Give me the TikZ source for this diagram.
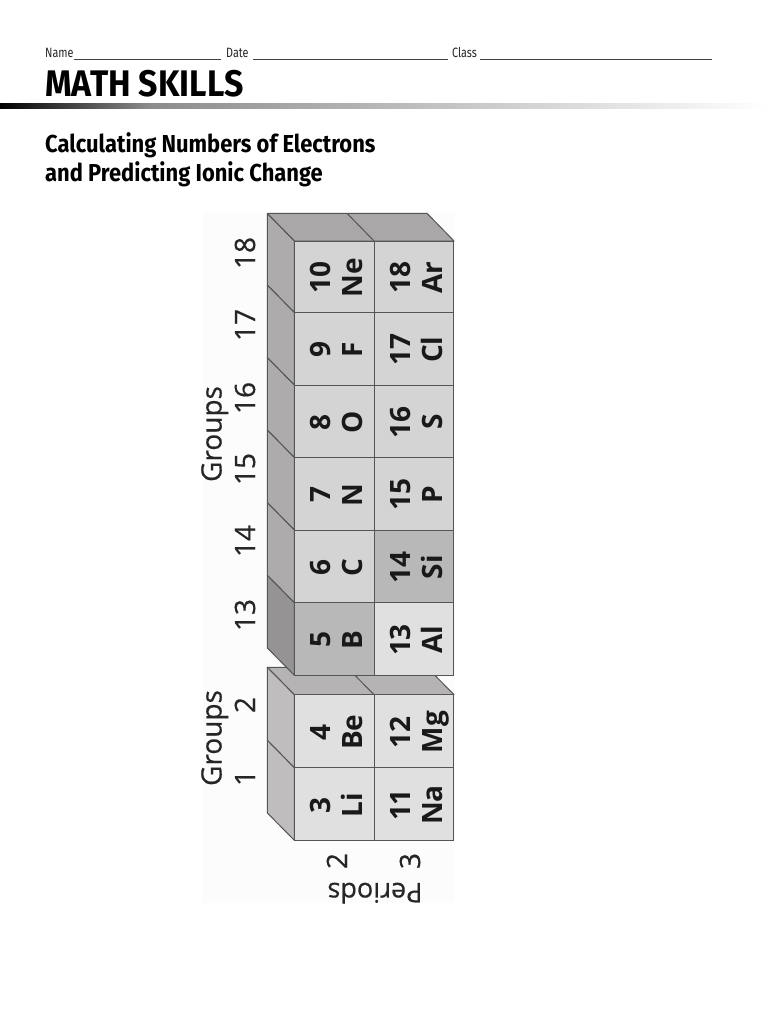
\documentclass[tikz,border=0pt]{standalone}
\usepackage{fontspec}
\setmainfont{Open Sans}
\newfontfamily\headfont{Fira Sans}
\usetikzlibrary{calc}
\definecolor{edgegray}{HTML}{555555}
\definecolor{topgray}{HTML}{A9A7A8}
\definecolor{sidegray}{HTML}{ADABAC}
\definecolor{sidedark}{HTML}{959394}
\definecolor{sidelow}{HTML}{BFBDBE}
\definecolor{toplow}{HTML}{B5B3B4}
\definecolor{celllight}{HTML}{D5D4D5}
\definecolor{celldark}{HTML}{B9B8B8}
\definecolor{cellpale}{HTML}{E0E0E0}
\tikzstyle{face} = [draw=edgegray,line width=1pt,line join=round]
\tikzstyle{cellbox} = [rectangle,draw=edgegray,line width=1pt,inner sep=0pt,minimum width=79.8pt]
\tikzstyle{elem} = [rotate=90,anchor=base,inner sep=0pt,font=\fontsize{28}{30}\selectfont\bfseries,text=black!90]
\tikzstyle{axislabel} = [anchor=base,inner sep=0pt,font=\fontsize{28}{30}\selectfont\addfontfeature{FakeBold=0.5},text=black!85]
\tikzstyle{formlabel} = [anchor=base west,inner sep=0pt,xscale=0.8,font=\headfont\fontsize{13.5}{15}\selectfont,text=black!85]
\tikzstyle{blankline} = [draw=black!75,line width=0.7pt]
\tikzstyle{headline} = [anchor=base west,inner sep=0pt,xscale=0.895,font=\headfont\fontsize{24.5}{27}\selectfont\bfseries]

\begin{document}
\begin{tikzpicture}[x=1pt,y=-1pt]

   \useasboundingbox (0,0) rectangle (768,1024);
   \fill[white] (0,0) rectangle (768,1024);
   \fill[black!1] (203,212) rectangle (454.5,903);

   % header
   \node[formlabel] (namelabel) at (45,58) {Name};
   \node[formlabel] (datelabel) at (226,58) {Date};
   \node[formlabel] (classlabel) at (452,58) {Class};
   \draw[blankline] (74,59) -- (221,59);
   \draw[blankline] (253,59) -- (448,59);
   \draw[blankline] (480,59) -- (712,59);
   \node[anchor=base west,inner sep=0pt,xscale=0.915,font=\headfont\fontsize{37}{40}\selectfont\bfseries] (title) at (45,97) {MATH SKILLS};
   \shade[left color=black,right color=black!45] (0,104) rectangle (150,108.5);
   \shade[left color=black!45,right color=white] (150,104) rectangle (768,108.5);
   \node[headline] (headone) at (45,153) {Calculating Numbers of Electrons};
   \node[headline] (headtwo) at (45,182) {and Predicting Ionic Change};

   % lower block
   \draw[face,fill=toplow] (267.3,667.3) -- (427,667.3) -- (454,694.7) -- (294.3,694.7) -- cycle;
   \draw[face] (347,667.3) -- (374,694.7);
   \foreach \ya/\yb/\colL/\colR/\nL/\sL/\nR/\sR in {694.7/767.7/cellpale/cellpale/4/Be/12/Mg, 767.7/840.3/cellpale/cellpale/3/Li/11/Na} {
      \pgfmathsetmacro\ymid{(\ya+\yb)/2}
      \pgfmathsetmacro\yh{\yb-\ya}
      \draw[face,fill=sidelow] (267.3,\ya-27.4) -- (294.3,\ya) -- (294.3,\yb) -- (267.3,\yb-27.4) -- cycle;
      \node[cellbox,fill=\colL,minimum height=\yh pt] (cell\sL) at (334.2,\ymid) {};
      \node[cellbox,fill=\colR,minimum height=\yh pt] (cell\sR) at (414,\ymid) {};
      \node[elem] at (330,\ymid+1) {\nL};
      \node[elem] at (362,\ymid+1) {\sL};
      \node[elem] at (410,\ymid+1) {\nR};
      \node[elem] at (442,\ymid+1) {\sR};
   }

   % upper block
   \draw[face,fill=topgray] (267.3,213.3) -- (427,213.3) -- (454,241) -- (294.3,241) -- cycle;
   \draw[face] (347,213.3) -- (374,241);
   \foreach \ya/\yb/\colS/\colL/\colR/\nL/\sL/\nR/\sR in {
      241/312.5/sidegray/celllight/celllight/10/Ne/18/Ar,
      312.5/385/sidegray/celllight/celllight/9/F/17/Cl,
      385/457.5/sidegray/celllight/celllight/8/O/16/S,
      457.5/530/sidegray/celllight/celllight/7/N/15/P,
      530/602.7/sidegray/celllight/celldark/6/C/14/Si,
      602.7/675.3/sidedark/celldark/cellpale/5/B/13/Al} {
      \pgfmathsetmacro\ymid{(\ya+\yb)/2}
      \pgfmathsetmacro\yh{\yb-\ya}
      \draw[face,fill=\colS] (267.3,\ya-27.4) -- (294.3,\ya) -- (294.3,\yb) -- (267.3,\yb-27.4) -- cycle;
      \node[cellbox,fill=\colL,minimum height=\yh pt] (cell\sL) at (334.2,\ymid) {};
      \node[cellbox,fill=\colR,minimum height=\yh pt] (cell\sR) at (414,\ymid) {};
      \node[elem] at (330,\ymid+1) {\nL};
      \node[elem] at (362,\ymid+1) {\sL};
      \node[elem] at (410,\ymid+1) {\nR};
      \node[elem] at (442,\ymid+1) {\sR};
   }

   % axis labels
   \foreach \ypos/\label in {253/18,325/17,398/16,469/15,541/14,615/13,705/2,778/1}
      \node[axislabel,rotate=90] (group\label) at (255,\ypos) {\label};
   \node[axislabel,rotate=90] (groupsup) at (221.5,434) {Groups};
   \node[axislabel,rotate=90] (groupslow) at (221.5,738) {Groups};
   \node[axislabel,rotate=90] (periodtwo) at (347,861) {2};
   \node[axislabel,rotate=90] (periodthree) at (420,861) {3};
   \node[axislabel,rotate=180,font=\fontsize{27}{30}\selectfont\addfontfeature{FakeBold=0.5}] (periods) at (375,883) {Periods};
\end{tikzpicture}
\end{document}
